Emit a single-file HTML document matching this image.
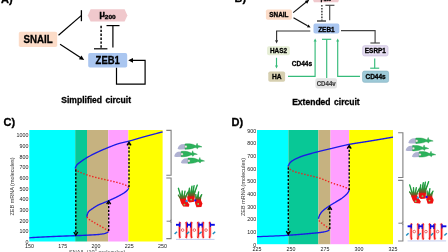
<!DOCTYPE html>
<html><head><meta charset="utf-8"><style>
html,body{margin:0;padding:0;background:#fff;width:448px;height:252px;overflow:hidden}
svg{display:block;font-family:"Liberation Sans", Arial, sans-serif}
text[font-weight=bold]{stroke:#000;stroke-width:0.3px}
</style></head><body>
<svg width="448" height="252" viewBox="0 0 448 252">
<text x="1.0" y="2.6" font-size="11" font-weight="bold">A)</text>
<rect x="18.8" y="31.8" width="38.4" height="15.2" rx="1.8" fill="#fcdcc8"/><text x="38.0" y="42.8" font-size="10.4" font-weight="bold" text-anchor="middle" fill="#000" textLength="29.2" lengthAdjust="spacingAndGlyphs">SNAIL</text>
<line x1="58.5" y1="35.2" x2="81.2" y2="15.6" stroke="#000" stroke-width="1.2"/>
<line x1="81.4" y1="10.2" x2="81.4" y2="21.2" stroke="#000" stroke-width="1.3"/>
<line x1="60.1" y1="44.3" x2="80.8" y2="57.7" stroke="#000" stroke-width="1.2"/>
<polygon points="84.20,60.00 78.92,59.30 81.44,55.45" fill="#000"/>
<polygon points="87.8,15.4 90.6,9.2 124.6,9.2 127.4,15.4 124.6,21.6 90.6,21.6" fill="#f0c8cc"/>
<text x="99.2" y="17.3" font-size="9.6" font-weight="bold">μ</text>
<text x="104.8" y="18.8" font-size="5.5" font-weight="bold" textLength="11" lengthAdjust="spacingAndGlyphs">200</text>
<line x1="101.1" y1="25.8" x2="101.1" y2="48.3" stroke="#000" stroke-width="1.45" stroke-dasharray="2.4 1.5"/>
<line x1="94" y1="48.8" x2="107.4" y2="48.8" stroke="#000" stroke-width="1.2"/>
<line x1="112.9" y1="25.6" x2="112.9" y2="47.5" stroke="#000" stroke-width="1.2"/>
<line x1="106.5" y1="25.6" x2="119.5" y2="25.6" stroke="#000" stroke-width="1.2"/>
<rect x="88.2" y="53.1" width="39.0" height="14.5" rx="1.8" fill="#aac6f0"/><text x="107.7" y="64.0" font-size="10.4" font-weight="bold" text-anchor="middle" fill="#000" textLength="24.2" lengthAdjust="spacingAndGlyphs">ZEB1</text>
<polyline points="116.5,67.8 116.5,84.1 145.1,84.1 145.1,60.3 132.0,60.3" fill="none" stroke="#000" stroke-width="1.2"/>
<polygon points="128.20,60.30 133.00,57.90 133.00,62.70" fill="#000"/>
<text x="61.3" y="103.2" font-size="8.7" font-weight="bold" textLength="69.7" lengthAdjust="spacingAndGlyphs" word-spacing="1">Simplified circuit</text>
<text x="234.5" y="2.1" font-size="11" font-weight="bold">B)</text>
<polygon points="311.6,-3 313.6,-8 338.4,-8 340.4,-3 338.0,2.2 314.0,2.2" fill="#f0c8cc"/>
<text x="320.5" y="0.2" font-size="6.5" font-weight="bold">μ</text><text x="324.2" y="1.0" font-size="4" font-weight="bold">200</text>
<rect x="265.9" y="9.5" width="26.0" height="10.2" rx="1.8" fill="#fcdcc8"/><text x="278.9" y="17.0" font-size="6.7" font-weight="bold" text-anchor="middle" fill="#000" textLength="19.2" lengthAdjust="spacingAndGlyphs">SNAIL</text>
<line x1="293.2" y1="12.6" x2="307.2" y2="1.3" stroke="#111" stroke-width="1.15"/>
<polygon points="309.30,-0.30 307.18,3.75 304.91,0.95" fill="#000"/>
<line x1="293.5" y1="17.8" x2="307.5" y2="25.8" stroke="#111" stroke-width="1.15"/>
<polygon points="310.60,27.60 306.90,27.21 308.40,24.61" fill="#000"/>
<line x1="321.9" y1="5" x2="321.9" y2="20.6" stroke="#111" stroke-width="1.2" stroke-dasharray="1.6 1.3"/>
<line x1="317" y1="21" x2="326" y2="21" stroke="#111" stroke-width="1.15"/>
<line x1="329.7" y1="5.3" x2="329.7" y2="20.2" stroke="#444" stroke-width="1.15"/>
<line x1="325.4" y1="5.3" x2="334.4" y2="5.3" stroke="#444" stroke-width="1.15"/>
<rect x="313.5" y="23.6" width="25.8" height="9.9" rx="1.8" fill="#aac6f0"/><text x="326.4" y="31.5" font-size="6.6" font-weight="bold" text-anchor="middle" fill="#000" textLength="16.5" lengthAdjust="spacingAndGlyphs">ZEB1</text>
<polyline points="310.3,31 276.6,31 276.6,40.5" fill="none" stroke="#333" stroke-width="1.15"/>
<polygon points="276.60,43.50 275.10,40.30 278.10,40.30" fill="#222"/>
<polyline points="341,30.6 375.1,30.6 375.1,43" fill="none" stroke="#444" stroke-width="1.15"/>
<line x1="370.4" y1="43" x2="379.9" y2="43" stroke="#444" stroke-width="1.15"/>
<rect x="267.1" y="46.3" width="22.7" height="9.0" rx="1.8" fill="#e6eed6"/><text x="278.45000000000005" y="53.3" font-size="6.6" font-weight="bold" text-anchor="middle" fill="#000" textLength="17.0" lengthAdjust="spacingAndGlyphs">HAS2</text>
<line x1="276.5" y1="57.8" x2="276.5" y2="66" stroke="#36bb7a" stroke-width="1.15"/>
<polygon points="276.50,68.40 275.00,65.40 278.00,65.40" fill="#36bb7a"/>
<text x="291.7" y="66" font-size="6.7" font-weight="bold" textLength="20.4" lengthAdjust="spacingAndGlyphs">CD44s</text>
<rect x="268.3" y="71.5" width="16.8" height="10.2" rx="1.8" fill="#d6cfb0"/><text x="276.7" y="79.2" font-size="7.0" font-weight="bold" text-anchor="middle" fill="#000" textLength="9.6" lengthAdjust="spacingAndGlyphs">HA</text>
<polyline points="288,76.3 315.1,76.3 315.1,41" fill="none" stroke="#36bb7a" stroke-width="1.15"/>
<polygon points="315.10,38.60 316.60,41.60 313.60,41.60" fill="#36bb7a"/>
<line x1="326.7" y1="78" x2="326.7" y2="39.3" stroke="#36bb7a" stroke-width="1.15"/>
<line x1="322" y1="39.3" x2="331.2" y2="39.3" stroke="#36bb7a" stroke-width="1.15"/>
<polyline points="360,76.3 337.7,76.3 337.7,41" fill="none" stroke="#36bb7a" stroke-width="1.15"/>
<polygon points="337.70,38.60 339.20,41.60 336.20,41.60" fill="#36bb7a"/>
<rect x="315.4" y="78.3" width="21.6" height="10.1" rx="1.8" fill="#e4e4e4"/><text x="326.2" y="85.8" font-size="6.5" font-weight="bold" text-anchor="middle" fill="#3c3c3c" style="stroke:#3c3c3c;stroke-width:0.15px" textLength="19.0" lengthAdjust="spacingAndGlyphs">CD44v</text>
<rect x="362.7" y="45.7" width="25.3" height="10.2" rx="1.8" fill="#e4dcf0" stroke="#c8bcdc" stroke-width="0.7"/><text x="375.34999999999997" y="53.3" font-size="6.6" font-weight="bold" text-anchor="middle" fill="#000" textLength="21.0" lengthAdjust="spacingAndGlyphs">ESRP1</text>
<line x1="374.7" y1="58.4" x2="374.7" y2="68.2" stroke="#36bb7a" stroke-width="1.15"/>
<line x1="370.2" y1="68.2" x2="379.2" y2="68.2" stroke="#36bb7a" stroke-width="1.15"/>
<rect x="362.6" y="71.1" width="26.0" height="11.2" rx="1.8" fill="#9ecad8" stroke="#86b4c4" stroke-width="0.7"/><text x="375.6" y="79.1" font-size="6.7" font-weight="bold" text-anchor="middle" fill="#000" textLength="20.3" lengthAdjust="spacingAndGlyphs">CD44s</text>
<text x="292.2" y="104.9" font-size="8.75" font-weight="bold" textLength="67.5" lengthAdjust="spacingAndGlyphs" word-spacing="1.2">Extended circuit</text>
<text x="3.5" y="126" font-size="11" font-weight="bold">C)</text>
<text x="231.5" y="126.3" font-size="11" font-weight="bold">D)</text>
<rect x="29.3" y="130" width="45.900000000000006" height="111.5" fill="#00ffff"/>
<rect x="75.2" y="130" width="11.799999999999997" height="111.5" fill="#08c896"/>
<rect x="87.0" y="130" width="21.200000000000003" height="111.5" fill="#c6b280"/>
<rect x="108.2" y="130" width="20.200000000000003" height="111.5" fill="#ffa0ff"/>
<rect x="128.4" y="130" width="34.19999999999999" height="111.5" fill="#ffff00"/>
<polyline points="29.30,237.80 31.34,237.67 33.48,237.54 35.71,237.41 38.03,237.29 40.43,237.16 42.91,237.03 45.46,236.90 48.08,236.77 50.77,236.64 53.51,236.51 56.32,236.39 59.35,236.26 62.66,236.13 66.16,236.00 69.73,235.87 73.28,235.74 76.72,235.61 79.93,235.49 82.84,235.36 85.40,235.23 87.91,235.10 90.35,234.97 92.68,234.84 94.84,234.71 96.78,234.59 98.43,234.46 99.76,234.33 100.79,234.20 101.74,234.07 102.60,233.94 103.37,233.81 104.05,233.69 104.63,233.56 105.12,233.43 105.50,233.30 105.82,233.17 106.14,233.04 106.44,232.91 106.73,232.79 107.00,232.66 107.25,232.53 107.48,232.40 107.68,232.27 107.86,232.14 108.01,232.01 108.14,231.89 108.23,231.76 108.28,231.63 108.30,231.50" fill="none" stroke="#1a1ae6" stroke-width="1.35"/>
<polyline points="108.30,231.50 108.29,231.37 108.25,231.25 108.19,231.12 108.11,230.99 108.02,230.87 107.90,230.74 107.77,230.61 107.62,230.49 107.46,230.36 107.29,230.23 107.10,230.11 106.91,229.98 106.71,229.85 106.51,229.73 106.30,229.60 106.08,229.47 105.87,229.35 105.65,229.22 105.44,229.09 105.23,228.97 105.02,228.84 104.82,228.71 104.63,228.59 104.44,228.46 104.25,228.33 104.06,228.21 103.86,228.08 103.66,227.95 103.46,227.83 103.25,227.70 103.04,227.57 102.83,227.44 102.61,227.32 102.39,227.19 102.17,227.06 101.95,226.94 101.72,226.81 101.50,226.68 101.27,226.56 101.04,226.43 100.82,226.30 100.59,226.18 100.36,226.05 100.13,225.92 99.90,225.80 99.68,225.67 99.45,225.54 99.23,225.42 99.00,225.29 98.78,225.16 98.56,225.04 98.35,224.91 98.13,224.78 97.91,224.66 97.69,224.53 97.47,224.40 97.24,224.28 97.02,224.15 96.80,224.02 96.58,223.90 96.36,223.77 96.13,223.64 95.91,223.52 95.69,223.39 95.47,223.26 95.25,223.14 95.03,223.01 94.81,222.88 94.59,222.76 94.37,222.63 94.15,222.50 93.94,222.38 93.73,222.25 93.51,222.12 93.30,222.00 93.09,221.87 92.89,221.74 92.68,221.62 92.48,221.49 92.28,221.36 92.07,221.24 91.86,221.11 91.65,220.98 91.44,220.86 91.23,220.73 91.02,220.60 90.81,220.48 90.60,220.35 90.39,220.22 90.19,220.09 89.99,219.97 89.79,219.84 89.60,219.71 89.41,219.59 89.23,219.46 89.05,219.33 88.89,219.21 88.73,219.08 88.57,218.95 88.43,218.83 88.30,218.70 88.18,218.57 88.05,218.45 87.93,218.32 87.80,218.19 87.68,218.07 87.55,217.94 87.44,217.81 87.33,217.69 87.22,217.56 87.13,217.43 87.05,217.31 86.99,217.18 86.94,217.05 86.91,216.93 86.90,216.80" fill="none" stroke="#f02020" stroke-width="1.4" stroke-dasharray="1.4 1.7"/>
<polyline points="86.90,216.80 86.90,216.67 86.91,216.55 86.91,216.42 86.92,216.30 86.93,216.17 86.95,216.04 86.96,215.92 86.98,215.79 87.00,215.67 87.03,215.54 87.05,215.42 87.08,215.29 87.11,215.16 87.14,215.04 87.17,214.91 87.20,214.79 87.24,214.66 87.27,214.53 87.31,214.41 87.35,214.28 87.39,214.16 87.43,214.03 87.48,213.91 87.52,213.78 87.56,213.65 87.61,213.53 87.65,213.40 87.70,213.28 87.74,213.15 87.79,213.02 87.84,212.90 87.90,212.77 87.96,212.65 88.03,212.52 88.10,212.39 88.18,212.27 88.26,212.14 88.35,212.02 88.44,211.89 88.54,211.77 88.64,211.64 88.74,211.51 88.85,211.39 88.96,211.26 89.08,211.14 89.19,211.01 89.31,210.88 89.45,210.76 89.59,210.63 89.74,210.51 89.90,210.38 90.07,210.26 90.25,210.13 90.43,210.00 90.61,209.88 90.79,209.75 90.98,209.63 91.16,209.50 91.35,209.37 91.53,209.25 91.71,209.12 91.89,209.00 92.07,208.87 92.25,208.74 92.43,208.62 92.61,208.49 92.79,208.37 92.97,208.24 93.15,208.12 93.33,207.99 93.52,207.86 93.70,207.74 93.89,207.61 94.08,207.49 94.27,207.36 94.46,207.23 94.65,207.11 94.85,206.98 95.05,206.86 95.25,206.73 95.45,206.61 95.66,206.48 95.87,206.35 96.08,206.23 96.30,206.10 96.52,205.98 96.74,205.85 96.97,205.72 97.20,205.60 97.44,205.47 97.69,205.35 97.94,205.22 98.19,205.09 98.46,204.97 98.73,204.84 99.00,204.72 99.29,204.59 99.57,204.47 99.86,204.34 100.15,204.21 100.45,204.09 100.75,203.96 101.06,203.84 101.37,203.71 101.68,203.58 101.99,203.46 102.30,203.33 102.62,203.21 102.93,203.08 103.25,202.96 103.56,202.83 103.88,202.70 104.20,202.58 104.51,202.45 104.83,202.33 105.14,202.20 105.45,202.07 105.76,201.95 106.07,201.82 106.38,201.70 106.68,201.57 106.98,201.44 107.27,201.32 107.56,201.19 107.85,201.07 108.13,200.94 108.41,200.82 108.69,200.69 108.98,200.56 109.26,200.44 109.54,200.31 109.82,200.19 110.10,200.06 110.38,199.93 110.66,199.81 110.94,199.68 111.22,199.56 111.50,199.43 111.77,199.31 112.05,199.18 112.32,199.05 112.60,198.93 112.87,198.80 113.14,198.68 113.42,198.55 113.69,198.42 113.95,198.30 114.22,198.17 114.49,198.05 114.75,197.92 115.01,197.79 115.27,197.67 115.53,197.54 115.79,197.42 116.04,197.29 116.30,197.17 116.55,197.04 116.80,196.91 117.04,196.79 117.29,196.66 117.53,196.54 117.77,196.41 118.01,196.28 118.25,196.16 118.50,196.03 118.74,195.91 118.98,195.78 119.22,195.66 119.46,195.53 119.71,195.40 119.95,195.28 120.19,195.15 120.42,195.03 120.66,194.90 120.90,194.77 121.13,194.65 121.36,194.52 121.59,194.40 121.82,194.27 122.04,194.14 122.27,194.02 122.49,193.89 122.70,193.77 122.92,193.64 123.13,193.52 123.33,193.39 123.54,193.26 123.74,193.14 123.93,193.01 124.12,192.89 124.31,192.76 124.49,192.63 124.66,192.51 124.83,192.38 125.00,192.26 125.16,192.13 125.32,192.01 125.47,191.88 125.63,191.75 125.78,191.63 125.94,191.50 126.09,191.38 126.24,191.25 126.39,191.12 126.53,191.00 126.67,190.87 126.81,190.75 126.94,190.62 127.07,190.49 127.20,190.37 127.31,190.24 127.43,190.12 127.53,189.99 127.64,189.87 127.73,189.74 127.82,189.61 127.90,189.49 127.97,189.36 128.03,189.24 128.10,189.11 128.16,188.98 128.22,188.86 128.28,188.73 128.34,188.61 128.39,188.48 128.44,188.36 128.49,188.23 128.53,188.10 128.56,187.98 128.58,187.85 128.59,187.73 128.60,187.60" fill="none" stroke="#1a1ae6" stroke-width="1.35"/>
<polyline points="128.60,187.60 128.59,187.47 128.54,187.35 128.48,187.22 128.39,187.09 128.29,186.97 128.18,186.84 128.05,186.72 127.92,186.59 127.78,186.46 127.64,186.34 127.50,186.21 127.33,186.08 127.14,185.96 126.93,185.83 126.71,185.71 126.46,185.58 126.21,185.45 125.94,185.33 125.66,185.20 125.37,185.07 125.07,184.95 124.77,184.82 124.47,184.69 124.14,184.57 123.80,184.44 123.45,184.32 123.08,184.19 122.69,184.06 122.29,183.94 121.88,183.81 121.46,183.68 121.02,183.56 120.58,183.43 120.13,183.31 119.67,183.18 119.21,183.05 118.74,182.93 118.26,182.80 117.78,182.67 117.30,182.55 116.82,182.42 116.34,182.29 115.86,182.17 115.38,182.04 114.89,181.92 114.39,181.79 113.87,181.66 113.35,181.54 112.82,181.41 112.29,181.28 111.74,181.16 111.19,181.03 110.64,180.91 110.09,180.78 109.53,180.65 108.97,180.53 108.41,180.40 107.86,180.27 107.30,180.15 106.75,180.02 106.21,179.89 105.67,179.77 105.12,179.64 104.57,179.52 104.02,179.39 103.46,179.26 102.90,179.14 102.34,179.01 101.78,178.88 101.22,178.76 100.67,178.63 100.12,178.51 99.57,178.38 99.03,178.25 98.50,178.13 97.98,178.00 97.47,177.87 96.97,177.75 96.48,177.62 96.00,177.49 95.53,177.37 95.06,177.24 94.59,177.12 94.13,176.99 93.67,176.86 93.22,176.74 92.77,176.61 92.32,176.48 91.88,176.36 91.45,176.23 91.01,176.11 90.59,175.98 90.16,175.85 89.75,175.73 89.34,175.60 88.93,175.47 88.53,175.35 88.14,175.22 87.75,175.09 87.36,174.97 86.99,174.84 86.62,174.72 86.25,174.59 85.90,174.46 85.54,174.34 85.18,174.21 84.82,174.08 84.45,173.96 84.09,173.83 83.73,173.71 83.37,173.58 83.02,173.45 82.67,173.33 82.32,173.20 81.98,173.07 81.64,172.95 81.31,172.82 80.99,172.69 80.67,172.57 80.37,172.44 80.07,172.32 79.78,172.19 79.51,172.06 79.25,171.94 79.00,171.81 78.76,171.68 78.54,171.56 78.34,171.43 78.15,171.31 77.97,171.18 77.80,171.05 77.63,170.93 77.47,170.80 77.30,170.67 77.13,170.55 76.97,170.42 76.81,170.29 76.66,170.17 76.51,170.04 76.36,169.92 76.22,169.79 76.10,169.66 75.97,169.54 75.86,169.41 75.76,169.28 75.67,169.16 75.59,169.03 75.52,168.91 75.47,168.78 75.43,168.65 75.41,168.53 75.40,168.40" fill="none" stroke="#f02020" stroke-width="1.4" stroke-dasharray="1.4 1.7"/>
<polyline points="75.40,168.40 75.40,168.27 75.41,168.15 75.42,168.02 75.44,167.90 75.47,167.77 75.49,167.65 75.53,167.52 75.56,167.40 75.60,167.27 75.65,167.15 75.70,167.02 75.75,166.89 75.80,166.77 75.86,166.64 75.92,166.52 75.99,166.39 76.05,166.27 76.12,166.14 76.19,166.02 76.26,165.89 76.33,165.77 76.41,165.64 76.48,165.52 76.56,165.39 76.64,165.26 76.71,165.14 76.79,165.01 76.87,164.89 76.97,164.76 77.07,164.64 77.18,164.51 77.31,164.39 77.44,164.26 77.58,164.14 77.72,164.01 77.87,163.88 78.03,163.76 78.19,163.63 78.36,163.51 78.53,163.38 78.70,163.26 78.87,163.13 79.05,163.01 79.22,162.88 79.40,162.76 79.58,162.63 79.75,162.50 79.92,162.38 80.10,162.25 80.26,162.13 80.43,162.00 80.59,161.88 80.76,161.75 80.92,161.63 81.09,161.50 81.26,161.38 81.43,161.25 81.60,161.13 81.77,161.00 81.94,160.87 82.11,160.75 82.29,160.62 82.46,160.50 82.64,160.37 82.81,160.25 82.99,160.12 83.17,160.00 83.35,159.87 83.53,159.75 83.71,159.62 83.90,159.49 84.08,159.37 84.27,159.24 84.46,159.12 84.65,158.99 84.84,158.87 85.03,158.74 85.23,158.62 85.42,158.49 85.62,158.37 85.82,158.24 86.02,158.11 86.22,157.99 86.43,157.86 86.64,157.74 86.85,157.61 87.06,157.49 87.27,157.36 87.49,157.24 87.70,157.11 87.92,156.99 88.14,156.86 88.37,156.74 88.59,156.61 88.82,156.48 89.05,156.36 89.28,156.23 89.52,156.11 89.75,155.98 89.99,155.86 90.23,155.73 90.47,155.61 90.71,155.48 90.95,155.36 91.20,155.23 91.44,155.10 91.69,154.98 91.94,154.85 92.19,154.73 92.44,154.60 92.70,154.48 92.95,154.35 93.20,154.23 93.46,154.10 93.72,153.98 93.98,153.85 94.24,153.72 94.50,153.60 94.76,153.47 95.02,153.35 95.29,153.22 95.55,153.10 95.81,152.97 96.08,152.85 96.35,152.72 96.61,152.60 96.88,152.47 97.15,152.35 97.42,152.22 97.69,152.09 97.96,151.97 98.23,151.84 98.50,151.72 98.77,151.59 99.04,151.47 99.31,151.34 99.58,151.22 99.86,151.09 100.13,150.97 100.41,150.84 100.69,150.71 100.97,150.59 101.25,150.46 101.53,150.34 101.81,150.21 102.10,150.09 102.39,149.96 102.68,149.84 102.97,149.71 103.26,149.59 103.55,149.46 103.85,149.33 104.14,149.21 104.44,149.08 104.74,148.96 105.04,148.83 105.34,148.71 105.64,148.58 105.95,148.46 106.25,148.33 106.56,148.21 106.87,148.08 107.17,147.95 107.48,147.83 107.79,147.70 108.10,147.58 108.42,147.45 108.73,147.33 109.04,147.20 109.34,147.08 109.65,146.95 109.95,146.83 110.26,146.70 110.57,146.58 110.87,146.45 111.18,146.32 111.49,146.20 111.79,146.07 112.11,145.95 112.42,145.82 112.73,145.70 113.05,145.57 113.38,145.45 113.70,145.32 114.03,145.20 114.36,145.07 114.70,144.94 115.05,144.82 115.40,144.69 115.75,144.57 116.11,144.44 116.48,144.32 116.86,144.19 117.24,144.07 117.63,143.94 118.03,143.82 118.43,143.69 118.85,143.56 119.30,143.44 119.76,143.31 120.25,143.19 120.75,143.06 121.26,142.94 121.78,142.81 122.31,142.69 122.85,142.56 123.40,142.44 123.94,142.31 124.49,142.19 125.04,142.06 125.59,141.93 126.12,141.81 126.66,141.68 127.18,141.56 127.69,141.43 128.19,141.31 128.67,141.18 129.14,141.06 129.61,140.93 130.07,140.81 130.53,140.68 130.98,140.55 131.44,140.43 131.88,140.30 132.33,140.18 132.77,140.05 133.20,139.93 133.64,139.80 134.07,139.68 134.50,139.55 134.93,139.43 135.36,139.30 135.78,139.17 136.21,139.05 136.63,138.92 137.06,138.80 137.48,138.67 137.90,138.55 138.32,138.42 138.75,138.30 139.17,138.17 139.60,138.05 140.02,137.92 140.45,137.80 140.88,137.67 141.31,137.54 141.74,137.42 142.18,137.29 142.61,137.17 143.05,137.04 143.50,136.92 143.95,136.79 144.40,136.67 144.85,136.54 145.31,136.42 145.77,136.29 146.23,136.16 146.69,136.04 147.15,135.91 147.62,135.79 148.08,135.66 148.55,135.54 149.02,135.41 149.49,135.29 149.96,135.16 150.43,135.04 150.90,134.91 151.38,134.78 151.85,134.66 152.33,134.53 152.81,134.41 153.29,134.28 153.77,134.16 154.25,134.03 154.73,133.91 155.21,133.78 155.70,133.66 156.18,133.53 156.67,133.41 157.16,133.28 157.65,133.15 158.14,133.03 158.63,132.90 159.12,132.78 159.61,132.65 160.11,132.53 160.61,132.40 161.10,132.28 161.60,132.15 162.10,132.03 162.60,131.90" fill="none" stroke="#1a1ae6" stroke-width="1.35"/>
<line x1="75.8" y1="169.5" x2="75.8" y2="234.4" stroke="#000" stroke-width="1.4" stroke-dasharray="2.2 1.6"/><polyline points="73.8,232.0 75.8,235.2 77.8,232.0" fill="none" stroke="#000" stroke-width="1.35"/>
<line x1="108.7" y1="231.0" x2="108.7" y2="201.79999999999998" stroke="#000" stroke-width="1.4" stroke-dasharray="2.2 1.6"/><polyline points="106.7,204.2 108.7,201.0 110.7,204.2" fill="none" stroke="#000" stroke-width="1.35"/>
<line x1="129.0" y1="187.0" x2="129.0" y2="143.0" stroke="#000" stroke-width="1.4" stroke-dasharray="2.2 1.6"/><polyline points="127.0,145.4 129.0,142.20000000000002 131.0,145.4" fill="none" stroke="#000" stroke-width="1.35"/>
<text x="28.400000000000002" y="243.9" font-size="6.0" text-anchor="end" fill="#1a1a1a" textLength="2.95" lengthAdjust="spacingAndGlyphs">0</text>
<text x="28.400000000000002" y="233.233" font-size="6.0" text-anchor="end" fill="#1a1a1a" textLength="8.85" lengthAdjust="spacingAndGlyphs">100</text>
<text x="28.400000000000002" y="222.566" font-size="6.0" text-anchor="end" fill="#1a1a1a" textLength="8.85" lengthAdjust="spacingAndGlyphs">200</text>
<text x="28.400000000000002" y="211.899" font-size="6.0" text-anchor="end" fill="#1a1a1a" textLength="8.85" lengthAdjust="spacingAndGlyphs">300</text>
<text x="28.400000000000002" y="201.232" font-size="6.0" text-anchor="end" fill="#1a1a1a" textLength="8.85" lengthAdjust="spacingAndGlyphs">400</text>
<text x="28.400000000000002" y="190.565" font-size="6.0" text-anchor="end" fill="#1a1a1a" textLength="8.85" lengthAdjust="spacingAndGlyphs">500</text>
<text x="28.400000000000002" y="179.89800000000002" font-size="6.0" text-anchor="end" fill="#1a1a1a" textLength="8.85" lengthAdjust="spacingAndGlyphs">600</text>
<text x="28.400000000000002" y="169.231" font-size="6.0" text-anchor="end" fill="#1a1a1a" textLength="8.85" lengthAdjust="spacingAndGlyphs">700</text>
<text x="28.400000000000002" y="158.56400000000002" font-size="6.0" text-anchor="end" fill="#1a1a1a" textLength="8.85" lengthAdjust="spacingAndGlyphs">800</text>
<text x="28.400000000000002" y="147.897" font-size="6.0" text-anchor="end" fill="#1a1a1a" textLength="8.85" lengthAdjust="spacingAndGlyphs">900</text>
<text x="28.400000000000002" y="137.23000000000002" font-size="6.0" text-anchor="end" fill="#1a1a1a" textLength="11.80" lengthAdjust="spacingAndGlyphs">1000</text>
<text x="29.5" y="247.9" font-size="6.0" text-anchor="middle" fill="#1a1a1a" textLength="8.85" lengthAdjust="spacingAndGlyphs">150</text>
<text x="62.75" y="247.9" font-size="6.0" text-anchor="middle" fill="#1a1a1a" textLength="8.85" lengthAdjust="spacingAndGlyphs">175</text>
<text x="96" y="247.9" font-size="6.0" text-anchor="middle" fill="#1a1a1a" textLength="8.85" lengthAdjust="spacingAndGlyphs">200</text>
<text x="129.25" y="247.9" font-size="6.0" text-anchor="middle" fill="#1a1a1a" textLength="8.85" lengthAdjust="spacingAndGlyphs">225</text>
<text x="162.5" y="247.9" font-size="6.0" text-anchor="middle" fill="#1a1a1a" textLength="8.85" lengthAdjust="spacingAndGlyphs">250</text>
<text transform="translate(14.1,186.5) rotate(-90)" font-size="5.5" text-anchor="middle" fill="#333">ZEB mRNA (molecules)</text>
<rect x="257.0" y="130" width="31.399999999999977" height="114.19999999999999" fill="#00ffff"/>
<rect x="288.4" y="130" width="30.0" height="114.19999999999999" fill="#08c896"/>
<rect x="318.4" y="130" width="12.100000000000023" height="114.19999999999999" fill="#c6b280"/>
<rect x="330.5" y="130" width="18.69999999999999" height="114.19999999999999" fill="#ffa0ff"/>
<rect x="349.2" y="130" width="43.80000000000001" height="114.19999999999999" fill="#ffff00"/>
<polyline points="257.00,236.70 260.36,236.57 263.65,236.44 266.86,236.32 269.97,236.19 272.98,236.06 275.87,235.93 278.63,235.80 281.25,235.68 283.72,235.55 286.02,235.42 288.14,235.29 290.12,235.16 292.00,235.04 293.80,234.91 295.51,234.78 297.14,234.65 298.72,234.52 300.23,234.39 301.70,234.27 303.13,234.14 304.54,234.01 305.92,233.88 307.28,233.75 308.65,233.63 310.02,233.50 311.40,233.37 312.79,233.24 314.17,233.11 315.52,232.99 316.81,232.86 318.03,232.73 319.16,232.60 320.17,232.47 321.07,232.35 321.91,232.22 322.72,232.09 323.48,231.96 324.19,231.83 324.85,231.71 325.44,231.58 325.97,231.45 326.43,231.32 326.84,231.19 327.22,231.06 327.57,230.94 327.89,230.81 328.16,230.68 328.39,230.55 328.57,230.42 328.71,230.30 328.84,230.17 328.97,230.04 329.08,229.91 329.17,229.78 329.24,229.66 329.28,229.53 329.30,229.40" fill="none" stroke="#1a1ae6" stroke-width="1.35"/>
<polyline points="329.30,229.40 329.28,229.27 329.24,229.15 329.17,229.02 329.07,228.89 328.96,228.76 328.84,228.64 328.71,228.51 328.58,228.38 328.45,228.25 328.32,228.13 328.20,228.00 328.07,227.87 327.94,227.74 327.79,227.62 327.65,227.49 327.49,227.36 327.33,227.23 327.17,227.11 327.00,226.98 326.82,226.85 326.65,226.72 326.47,226.60 326.29,226.47 326.10,226.34 325.92,226.22 325.73,226.09 325.54,225.96 325.36,225.83 325.17,225.71 324.98,225.58 324.80,225.45 324.61,225.32 324.43,225.20 324.25,225.07 324.08,224.94 323.91,224.81 323.74,224.69 323.57,224.56 323.41,224.43 323.25,224.30 323.09,224.18 322.92,224.05 322.75,223.92 322.57,223.80 322.40,223.67 322.22,223.54 322.05,223.41 321.87,223.29 321.70,223.16 321.53,223.03 321.35,222.90 321.19,222.78 321.02,222.65 320.86,222.52 320.70,222.39 320.55,222.27 320.40,222.14 320.26,222.01 320.13,221.88 320.00,221.76 319.87,221.63 319.76,221.50 319.66,221.38 319.56,221.25 319.47,221.12 319.40,220.99 319.32,220.87 319.25,220.74 319.18,220.61 319.11,220.48 319.04,220.36 318.97,220.23 318.91,220.10 318.84,219.97 318.79,219.85 318.73,219.72 318.68,219.59 318.64,219.46 318.60,219.34 318.56,219.21 318.54,219.08 318.52,218.95 318.50,218.83 318.50,218.70" fill="none" stroke="#f02020" stroke-width="1.4" stroke-dasharray="1.4 1.7"/>
<polyline points="318.50,218.70 318.50,218.57 318.51,218.45 318.52,218.32 318.54,218.20 318.56,218.07 318.58,217.94 318.61,217.82 318.64,217.69 318.67,217.57 318.70,217.44 318.74,217.32 318.78,217.19 318.83,217.06 318.87,216.94 318.92,216.81 318.97,216.69 319.01,216.56 319.06,216.43 319.11,216.31 319.17,216.18 319.22,216.06 319.27,215.93 319.32,215.80 319.37,215.68 319.42,215.55 319.47,215.43 319.52,215.30 319.58,215.18 319.64,215.05 319.70,214.92 319.77,214.80 319.83,214.67 319.90,214.55 319.97,214.42 320.04,214.29 320.12,214.17 320.20,214.04 320.28,213.92 320.36,213.79 320.44,213.66 320.52,213.54 320.61,213.41 320.70,213.29 320.79,213.16 320.88,213.04 320.97,212.91 321.06,212.78 321.16,212.66 321.26,212.53 321.36,212.41 321.46,212.28 321.56,212.15 321.66,212.03 321.76,211.90 321.87,211.78 321.99,211.65 322.10,211.52 322.22,211.40 322.34,211.27 322.47,211.15 322.60,211.02 322.73,210.90 322.86,210.77 323.00,210.64 323.14,210.52 323.28,210.39 323.43,210.27 323.57,210.14 323.72,210.01 323.87,209.89 324.03,209.76 324.18,209.64 324.34,209.51 324.50,209.39 324.66,209.26 324.82,209.13 324.99,209.01 325.15,208.88 325.32,208.76 325.49,208.63 325.66,208.50 325.83,208.38 326.00,208.25 326.18,208.13 326.35,208.00 326.53,207.87 326.70,207.75 326.88,207.62 327.05,207.50 327.23,207.37 327.41,207.25 327.59,207.12 327.77,206.99 327.95,206.87 328.12,206.74 328.30,206.62 328.48,206.49 328.66,206.36 328.84,206.24 329.02,206.11 329.20,205.99 329.39,205.86 329.58,205.73 329.77,205.61 329.96,205.48 330.16,205.36 330.36,205.23 330.56,205.11 330.76,204.98 330.97,204.85 331.17,204.73 331.38,204.60 331.59,204.48 331.80,204.35 332.01,204.22 332.22,204.10 332.43,203.97 332.65,203.85 332.86,203.72 333.08,203.59 333.29,203.47 333.51,203.34 333.73,203.22 333.94,203.09 334.16,202.97 334.38,202.84 334.59,202.71 334.81,202.59 335.02,202.46 335.24,202.34 335.45,202.21 335.66,202.08 335.88,201.96 336.09,201.83 336.30,201.71 336.50,201.58 336.71,201.45 336.92,201.33 337.12,201.20 337.33,201.08 337.54,200.95 337.75,200.83 337.97,200.70 338.18,200.57 338.39,200.45 338.61,200.32 338.82,200.20 339.03,200.07 339.24,199.94 339.45,199.82 339.66,199.69 339.87,199.57 340.07,199.44 340.27,199.31 340.47,199.19 340.67,199.06 340.86,198.94 341.05,198.81 341.24,198.69 341.42,198.56 341.59,198.43 341.77,198.31 341.94,198.18 342.11,198.06 342.28,197.93 342.45,197.80 342.61,197.68 342.78,197.55 342.94,197.43 343.10,197.30 343.26,197.18 343.42,197.05 343.57,196.92 343.72,196.80 343.88,196.67 344.03,196.55 344.17,196.42 344.32,196.29 344.46,196.17 344.61,196.04 344.75,195.92 344.89,195.79 345.02,195.66 345.16,195.54 345.29,195.41 345.43,195.29 345.56,195.16 345.70,195.04 345.83,194.91 345.97,194.78 346.10,194.66 346.23,194.53 346.37,194.41 346.49,194.28 346.62,194.15 346.75,194.03 346.87,193.90 346.99,193.78 347.11,193.65 347.23,193.52 347.34,193.40 347.44,193.27 347.55,193.15 347.64,193.02 347.74,192.90 347.83,192.77 347.91,192.64 347.99,192.52 348.06,192.39 348.14,192.27 348.22,192.14 348.30,192.01 348.37,191.89 348.45,191.76 348.52,191.64 348.59,191.51 348.66,191.38 348.73,191.26 348.79,191.13 348.85,191.01 348.91,190.88 348.95,190.76 349.00,190.63 349.03,190.50 349.06,190.38 349.08,190.25 349.10,190.13 349.10,190.00" fill="none" stroke="#1a1ae6" stroke-width="1.35"/>
<polyline points="349.10,190.00 349.08,189.87 349.04,189.75 348.97,189.62 348.87,189.50 348.75,189.37 348.61,189.24 348.45,189.12 348.27,188.99 348.08,188.87 347.87,188.74 347.66,188.61 347.43,188.49 347.19,188.36 346.95,188.24 346.70,188.11 346.45,187.99 346.20,187.86 345.95,187.73 345.71,187.61 345.46,187.48 345.22,187.36 344.95,187.23 344.67,187.10 344.37,186.98 344.06,186.85 343.73,186.73 343.39,186.60 343.04,186.47 342.68,186.35 342.31,186.22 341.93,186.10 341.54,185.97 341.15,185.84 340.74,185.72 340.33,185.59 339.92,185.47 339.50,185.34 339.08,185.21 338.66,185.09 338.23,184.96 337.81,184.84 337.38,184.71 336.95,184.59 336.53,184.46 336.11,184.33 335.70,184.21 335.28,184.08 334.88,183.96 334.48,183.83 334.08,183.70 333.70,183.58 333.32,183.45 332.96,183.33 332.60,183.20 332.25,183.07 331.91,182.95 331.57,182.82 331.24,182.70 330.92,182.57 330.59,182.44 330.28,182.32 329.96,182.19 329.65,182.07 329.34,181.94 329.04,181.81 328.73,181.69 328.43,181.56 328.13,181.44 327.83,181.31 327.54,181.19 327.24,181.06 326.94,180.93 326.65,180.81 326.35,180.68 326.05,180.56 325.75,180.43 325.45,180.30 325.14,180.18 324.84,180.05 324.53,179.93 324.22,179.80 323.90,179.67 323.58,179.55 323.26,179.42 322.93,179.30 322.60,179.17 322.26,179.04 321.92,178.92 321.57,178.79 321.22,178.67 320.86,178.54 320.49,178.41 320.11,178.29 319.73,178.16 319.34,178.04 318.94,177.91 318.52,177.79 318.09,177.66 317.64,177.53 317.18,177.41 316.70,177.28 316.21,177.16 315.71,177.03 315.20,176.90 314.68,176.78 314.15,176.65 313.61,176.53 313.08,176.40 312.53,176.27 311.99,176.15 311.45,176.02 310.90,175.90 310.36,175.77 309.82,175.64 309.29,175.52 308.77,175.39 308.25,175.27 307.74,175.14 307.24,175.01 306.76,174.89 306.27,174.76 305.78,174.64 305.27,174.51 304.76,174.39 304.25,174.26 303.73,174.13 303.20,174.01 302.68,173.88 302.16,173.76 301.63,173.63 301.11,173.50 300.59,173.38 300.07,173.25 299.56,173.13 299.06,173.00 298.56,172.87 298.08,172.75 297.60,172.62 297.14,172.50 296.68,172.37 296.24,172.24 295.82,172.12 295.41,171.99 295.02,171.87 294.65,171.74 294.30,171.61 293.97,171.49 293.67,171.36 293.38,171.24 293.12,171.11 292.88,170.99 292.64,170.86 292.41,170.73 292.18,170.61 291.95,170.48 291.73,170.36 291.52,170.23 291.31,170.10 291.11,169.98 290.91,169.85 290.73,169.73 290.54,169.60 290.37,169.47 290.20,169.35 290.04,169.22 289.88,169.10 289.74,168.97 289.60,168.84 289.47,168.72 289.35,168.59 289.24,168.47 289.13,168.34 289.04,168.21 288.95,168.09 288.88,167.96 288.81,167.84 288.73,167.71 288.66,167.59 288.60,167.46 288.53,167.33 288.47,167.21 288.41,167.08 288.36,166.96 288.31,166.83 288.28,166.70 288.24,166.58 288.22,166.45 288.21,166.33 288.20,166.20" fill="none" stroke="#f02020" stroke-width="1.4" stroke-dasharray="1.4 1.7"/>
<polyline points="288.20,166.20 288.21,166.07 288.23,165.95 288.26,165.82 288.29,165.70 288.34,165.57 288.40,165.44 288.46,165.32 288.52,165.19 288.59,165.07 288.66,164.94 288.73,164.81 288.80,164.69 288.87,164.56 288.93,164.44 289.00,164.31 289.07,164.18 289.14,164.06 289.21,163.93 289.28,163.81 289.36,163.68 289.44,163.55 289.53,163.43 289.61,163.30 289.70,163.18 289.80,163.05 289.89,162.92 289.99,162.80 290.10,162.67 290.21,162.55 290.32,162.42 290.44,162.29 290.57,162.17 290.71,162.04 290.85,161.92 291.00,161.79 291.15,161.66 291.32,161.54 291.48,161.41 291.65,161.29 291.83,161.16 292.01,161.04 292.20,160.91 292.39,160.78 292.59,160.66 292.79,160.53 292.99,160.41 293.19,160.28 293.40,160.15 293.61,160.03 293.83,159.90 294.04,159.78 294.26,159.65 294.48,159.52 294.70,159.40 294.93,159.27 295.16,159.15 295.40,159.02 295.64,158.89 295.89,158.77 296.14,158.64 296.40,158.52 296.67,158.39 296.94,158.26 297.21,158.14 297.49,158.01 297.78,157.89 298.07,157.76 298.36,157.63 298.66,157.51 298.97,157.38 299.28,157.26 299.59,157.13 299.91,157.00 300.23,156.88 300.56,156.75 300.89,156.63 301.22,156.50 301.56,156.37 301.91,156.25 302.26,156.12 302.62,156.00 302.99,155.87 303.38,155.74 303.77,155.62 304.17,155.49 304.58,155.37 305.00,155.24 305.42,155.11 305.85,154.99 306.29,154.86 306.73,154.74 307.17,154.61 307.62,154.48 308.07,154.36 308.52,154.23 308.98,154.11 309.43,153.98 309.89,153.85 310.34,153.73 310.79,153.60 311.24,153.48 311.70,153.35 312.16,153.22 312.63,153.10 313.09,152.97 313.57,152.85 314.04,152.72 314.52,152.59 315.00,152.47 315.49,152.34 315.98,152.22 316.47,152.09 316.96,151.96 317.46,151.84 317.95,151.71 318.45,151.59 318.95,151.46 319.46,151.34 319.97,151.21 320.48,151.08 321.00,150.96 321.52,150.83 322.04,150.71 322.56,150.58 323.09,150.45 323.62,150.33 324.15,150.20 324.68,150.08 325.21,149.95 325.74,149.82 326.28,149.70 326.81,149.57 327.35,149.45 327.88,149.32 328.42,149.19 328.95,149.07 329.49,148.94 330.02,148.82 330.55,148.69 331.08,148.56 331.61,148.44 332.13,148.31 332.64,148.19 333.16,148.06 333.67,147.93 334.18,147.81 334.68,147.68 335.19,147.56 335.70,147.43 336.21,147.30 336.71,147.18 337.22,147.05 337.73,146.93 338.25,146.80 338.76,146.67 339.28,146.55 339.81,146.42 340.33,146.30 340.86,146.17 341.40,146.04 341.95,145.92 342.49,145.79 343.05,145.67 343.61,145.54 344.19,145.41 344.76,145.29 345.35,145.16 345.95,145.04 346.56,144.91 347.18,144.78 347.80,144.66 348.45,144.53 349.11,144.41 349.79,144.28 350.48,144.15 351.20,144.03 351.92,143.90 352.67,143.78 353.42,143.65 354.19,143.52 354.97,143.40 355.75,143.27 356.55,143.15 357.35,143.02 358.16,142.89 358.97,142.77 359.79,142.64 360.61,142.52 361.43,142.39 362.24,142.26 363.06,142.14 363.88,142.01 364.69,141.89 365.50,141.76 366.30,141.64 367.09,141.51 367.87,141.38 368.65,141.26 369.41,141.13 370.17,141.01 370.92,140.88 371.68,140.75 372.43,140.63 373.18,140.50 373.93,140.38 374.68,140.25 375.42,140.12 376.17,140.00 376.91,139.87 377.66,139.75 378.40,139.62 379.14,139.49 379.88,139.37 380.62,139.24 381.36,139.12 382.10,138.99 382.83,138.86 383.57,138.74 384.30,138.61 385.03,138.49 385.76,138.36 386.49,138.23 387.22,138.11 387.95,137.98 388.67,137.86 389.40,137.73 390.12,137.60 390.84,137.48 391.56,137.35 392.28,137.23 393.00,137.10" fill="none" stroke="#1a1ae6" stroke-width="1.35"/>
<line x1="288.3" y1="167.5" x2="288.3" y2="233.60000000000002" stroke="#000" stroke-width="1.4" stroke-dasharray="2.2 1.6"/><polyline points="286.3,231.20000000000002 288.3,234.4 290.3,231.20000000000002" fill="none" stroke="#000" stroke-width="1.35"/>
<line x1="329.8" y1="229.0" x2="329.8" y2="207.5" stroke="#000" stroke-width="1.4" stroke-dasharray="2.2 1.6"/><polyline points="327.8,209.9 329.8,206.70000000000002 331.8,209.9" fill="none" stroke="#000" stroke-width="1.35"/>
<line x1="349.2" y1="190.0" x2="349.2" y2="146.2" stroke="#000" stroke-width="1.4" stroke-dasharray="2.2 1.6"/><polyline points="347.2,148.6 349.2,145.4 351.2,148.6" fill="none" stroke="#000" stroke-width="1.35"/>
<text x="256.1" y="246.5" font-size="6.0" text-anchor="end" fill="#1a1a1a" textLength="2.95" lengthAdjust="spacingAndGlyphs">0</text>
<text x="256.1" y="233.84" font-size="6.0" text-anchor="end" fill="#1a1a1a" textLength="8.85" lengthAdjust="spacingAndGlyphs">100</text>
<text x="256.1" y="221.18" font-size="6.0" text-anchor="end" fill="#1a1a1a" textLength="8.85" lengthAdjust="spacingAndGlyphs">200</text>
<text x="256.1" y="208.52" font-size="6.0" text-anchor="end" fill="#1a1a1a" textLength="8.85" lengthAdjust="spacingAndGlyphs">300</text>
<text x="256.1" y="195.86" font-size="6.0" text-anchor="end" fill="#1a1a1a" textLength="8.85" lengthAdjust="spacingAndGlyphs">400</text>
<text x="256.1" y="183.2" font-size="6.0" text-anchor="end" fill="#1a1a1a" textLength="8.85" lengthAdjust="spacingAndGlyphs">500</text>
<text x="256.1" y="170.54000000000002" font-size="6.0" text-anchor="end" fill="#1a1a1a" textLength="8.85" lengthAdjust="spacingAndGlyphs">600</text>
<text x="256.1" y="157.88" font-size="6.0" text-anchor="end" fill="#1a1a1a" textLength="8.85" lengthAdjust="spacingAndGlyphs">700</text>
<text x="256.1" y="145.22000000000003" font-size="6.0" text-anchor="end" fill="#1a1a1a" textLength="8.85" lengthAdjust="spacingAndGlyphs">800</text>
<text x="256.1" y="132.56" font-size="6.0" text-anchor="end" fill="#1a1a1a" textLength="8.85" lengthAdjust="spacingAndGlyphs">900</text>
<text x="257" y="250.5" font-size="6.0" text-anchor="middle" fill="#1a1a1a" textLength="8.85" lengthAdjust="spacingAndGlyphs">225</text>
<text x="291" y="250.5" font-size="6.0" text-anchor="middle" fill="#1a1a1a" textLength="8.85" lengthAdjust="spacingAndGlyphs">250</text>
<text x="325" y="250.5" font-size="6.0" text-anchor="middle" fill="#1a1a1a" textLength="8.85" lengthAdjust="spacingAndGlyphs">275</text>
<text x="359" y="250.5" font-size="6.0" text-anchor="middle" fill="#1a1a1a" textLength="8.85" lengthAdjust="spacingAndGlyphs">300</text>
<text x="393" y="250.5" font-size="6.0" text-anchor="middle" fill="#1a1a1a" textLength="8.85" lengthAdjust="spacingAndGlyphs">325</text>
<text transform="translate(244.6,187) rotate(-90)" font-size="5.5" text-anchor="middle" fill="#333">ZEB mRNA (molecules)</text>
<text x="69.0" y="254.4" font-size="5.6" fill="#444">SNAIL (10<tspan dy="-3.2" font-size="4">3</tspan><tspan dy="3.2"> molecules)</tspan></text>
<path d="M166.29999999999998,130.4 H171.1 V175.3 H166.29999999999998 M166.29999999999998,178.0 H171.1 V238.6 H166.29999999999998" fill="none" stroke="#808080" stroke-width="1.1"/><path d="M171.1,219.6 L170.1,221.2 H166.6 M170.1,221.2 L171.1,222.79999999999998" fill="none" stroke="#808080" stroke-width="1.0"/>
<g transform="translate(177.6,146.5) scale(1.0,0.9)"><path d="M0,2.4 C0.5,0.2 1.8,-1.7 3.8,-2.5 L8.6,-2.9 L8.6,3.0 L2.8,3.2 C1.3,3.2 0.2,3.0 0,2.4 Z" fill="#b0b2d2"/><path d="M7.4,-2.9 C11,-3.4 14.6,-2.9 16.8,-1.6 L18.4,-0.9 L19.5,-3.6 L20.3,-1.0 L21.8,-0.8 L24.4,0.4 L20.8,0.9 L19.8,2.6 L18.4,1.2 L17.0,1.3 C14,2.8 10.5,3.1 7.4,3.0 Z" fill="#2cb25c" stroke="#14943f" stroke-width="0.4"/><circle cx="8.2" cy="0.2" r="1.25" fill="#f2ecea" stroke="#8a9a8a" stroke-width="0.3"/></g><g transform="translate(174.2,154.0) scale(0.95,0.9)"><path d="M0,2.4 C0.5,0.2 1.8,-1.7 3.8,-2.5 L8.6,-2.9 L8.6,3.0 L2.8,3.2 C1.3,3.2 0.2,3.0 0,2.4 Z" fill="#b0b2d2"/><path d="M7.4,-2.9 C11,-3.4 14.6,-2.9 16.8,-1.6 L18.4,-0.9 L19.5,-3.6 L20.3,-1.0 L21.8,-0.8 L24.4,0.4 L20.8,0.9 L19.8,2.6 L18.4,1.2 L17.0,1.3 C14,2.8 10.5,3.1 7.4,3.0 Z" fill="#2cb25c" stroke="#14943f" stroke-width="0.4"/><circle cx="8.2" cy="0.2" r="1.25" fill="#f2ecea" stroke="#8a9a8a" stroke-width="0.3"/></g><g transform="translate(180.9,160.7) scale(0.97,0.9)"><path d="M0,2.4 C0.5,0.2 1.8,-1.7 3.8,-2.5 L8.6,-2.9 L8.6,3.0 L2.8,3.2 C1.3,3.2 0.2,3.0 0,2.4 Z" fill="#b0b2d2"/><path d="M7.4,-2.9 C11,-3.4 14.6,-2.9 16.8,-1.6 L18.4,-0.9 L19.5,-3.6 L20.3,-1.0 L21.8,-0.8 L24.4,0.4 L20.8,0.9 L19.8,2.6 L18.4,1.2 L17.0,1.3 C14,2.8 10.5,3.1 7.4,3.0 Z" fill="#2cb25c" stroke="#14943f" stroke-width="0.4"/><circle cx="8.2" cy="0.2" r="1.25" fill="#f2ecea" stroke="#8a9a8a" stroke-width="0.3"/></g>
<defs><linearGradient id="rg1" gradientUnits="userSpaceOnUse" x1="0" y1="188" x2="0" y2="200.5"><stop offset="0" stop-color="#17a444"/><stop offset="0.55" stop-color="#2a9238"/><stop offset="0.85" stop-color="#7a5020"/><stop offset="1" stop-color="#c02010"/></linearGradient><linearGradient id="rg2" gradientUnits="userSpaceOnUse" x1="0" y1="185.5" x2="0" y2="197.5"><stop offset="0" stop-color="#17a444"/><stop offset="0.55" stop-color="#2a9238"/><stop offset="0.85" stop-color="#7a5020"/><stop offset="1" stop-color="#c02010"/></linearGradient><linearGradient id="rg3" gradientUnits="userSpaceOnUse" x1="0" y1="192" x2="0" y2="200.5"><stop offset="0" stop-color="#17a444"/><stop offset="0.55" stop-color="#2a9238"/><stop offset="0.85" stop-color="#7a5020"/><stop offset="1" stop-color="#c02010"/></linearGradient></defs><polygon fill="url(#rg1)" points="181.0,200.2 178.4,188.3 180.9,195.8 182.2,191.0 183.3,196.4 185.0,191.1 184.8,196.6 187.9,192.1 185.7,199.6"/><polygon fill="url(#rg1)" points="180.6,199.8 178.3,195.2 181.4,198.2"/><polygon fill="url(#rg2)" points="187.5,197.6 187.8,192.2 189.4,188.2 190.2,193.0 192.0,186.1 192.6,192.4 194.1,185.6 194.4,192.0 197.3,185.1 194.9,194.0 194.7,197.6"/><polygon fill="url(#rg3)" points="195.3,200.3 195.6,194.6 196.6,197.2 198.6,192.0 199.0,197.4 201.7,194.6 200.9,200.4"/><g stroke="url(#rg1)" stroke-width="1.35" stroke-linecap="round"><line x1="181.6" y1="199" x2="178.4" y2="188.3"/><line x1="181.0" y1="199.5" x2="178.4" y2="195.2"/><line x1="182.6" y1="199" x2="182.2" y2="191.0"/><line x1="183.6" y1="199" x2="185.0" y2="191.1"/><line x1="184.6" y1="199" x2="187.9" y2="192.1"/></g><g stroke="url(#rg2)" stroke-width="1.35" stroke-linecap="round"><line x1="188.6" y1="196" x2="189.4" y2="188.2"/><line x1="190.2" y1="196" x2="192.0" y2="186.1"/><line x1="191.8" y1="196" x2="194.1" y2="185.6"/><line x1="193.4" y1="196" x2="197.3" y2="185.1"/></g><g stroke="url(#rg3)" stroke-width="1.35" stroke-linecap="round"><line x1="196.2" y1="199.5" x2="195.8" y2="194.4"/><line x1="197.4" y1="199.5" x2="198.6" y2="192.0"/><line x1="199.0" y1="199.5" x2="201.7" y2="194.6"/></g><g fill="#ee1010"><polygon points="179.8,199.2 185.6,198.6 189.4,204.8 188.8,206.8 183.2,206.5 181.2,203.3"/><polygon points="187.2,196.6 194.6,196.4 194.4,201.8 189.5,202.5 187.6,201.0"/><polygon points="195.2,199.8 200.8,199.8 202.4,203.4 201.4,207.0 196.4,207.2 195.0,203.0"/></g><circle cx="184.4" cy="204.6" r="0.95" fill="#7ccc68"/><circle cx="191.2" cy="199.6" r="0.95" fill="#7ccc68"/><circle cx="198.2" cy="204.0" r="0.95" fill="#7ccc68"/><circle cx="186.5" cy="201.1" r="1.15" fill="#1ea8f0"/><circle cx="195.3" cy="200.4" r="1.15" fill="#1010f0"/>
<line x1="176" y1="239.4" x2="214.5" y2="239.4" stroke="#b4c0ea" stroke-width="0.8"/><path d="M180.3,222.0 Q179.5,223 179.5,225 L179.5,235 Q179.5,237 180.3,238.0 M185.79999999999998,222.0 Q186.6,223 186.6,225 L186.6,235 Q186.6,237 185.79999999999998,238.0" fill="none" stroke="#fbcaca" stroke-width="3.2" transform="translate(0,0)"/><path d="M192.0,222.0 Q191.2,223 191.2,225 L191.2,235 Q191.2,237 192.0,238.0 M197.5,222.0 Q198.3,223 198.3,225 L198.3,235 Q198.3,237 197.5,238.0" fill="none" stroke="#fbcaca" stroke-width="3.2" transform="translate(0,0)"/><path d="M203.70000000000002,222.0 Q202.9,223 202.9,225 L202.9,235 Q202.9,237 203.70000000000002,238.0 M209.2,222.0 Q210.0,223 210.0,225 L210.0,235 Q210.0,237 209.2,238.0" fill="none" stroke="#fbcaca" stroke-width="3.2" transform="translate(0,0)"/><path d="M180.3,222.0 Q179.5,223 179.5,225 L179.5,235 Q179.5,237 180.3,238.0 M185.79999999999998,222.0 Q186.6,223 186.6,225 L186.6,235 Q186.6,237 185.79999999999998,238.0" fill="none" stroke="#f41a1a" stroke-width="1.45"/><circle cx="182.65" cy="230.1" r="1.3" fill="#fff" stroke="#e23a3a" stroke-width="0.75"/><path d="M192.0,222.0 Q191.2,223 191.2,225 L191.2,235 Q191.2,237 192.0,238.0 M197.5,222.0 Q198.3,223 198.3,225 L198.3,235 Q198.3,237 197.5,238.0" fill="none" stroke="#f41a1a" stroke-width="1.45"/><circle cx="194.35" cy="230.1" r="1.3" fill="#fff" stroke="#e23a3a" stroke-width="0.75"/><path d="M203.70000000000002,222.0 Q202.9,223 202.9,225 L202.9,235 Q202.9,237 203.70000000000002,238.0 M209.2,222.0 Q210.0,223 210.0,225 L210.0,235 Q210.0,237 209.2,238.0" fill="none" stroke="#f41a1a" stroke-width="1.45"/><circle cx="206.04999999999998" cy="230.1" r="1.3" fill="#fff" stroke="#e23a3a" stroke-width="0.75"/><line x1="176" y1="224.8" x2="180.2" y2="224.8" stroke="#0a0ae8" stroke-width="1.9"/><line x1="179.7" y1="222.6" x2="179.7" y2="227.0" stroke="#0a0ae8" stroke-width="1.1"/><line x1="187.0" y1="224.8" x2="191.0" y2="224.8" stroke="#0a0ae8" stroke-width="1.9"/><line x1="187.4" y1="222.4" x2="187.4" y2="227.4" stroke="#0a0ae8" stroke-width="1.1"/><line x1="190.6" y1="222.4" x2="190.6" y2="227.4" stroke="#0a0ae8" stroke-width="1.1"/><line x1="198.6" y1="224.8" x2="202.6" y2="224.8" stroke="#0a0ae8" stroke-width="1.9"/><line x1="199.0" y1="222.4" x2="199.0" y2="227.4" stroke="#0a0ae8" stroke-width="1.1"/><line x1="202.2" y1="222.4" x2="202.2" y2="227.4" stroke="#0a0ae8" stroke-width="1.1"/><line x1="210.2" y1="224.8" x2="214.8" y2="224.8" stroke="#0a0ae8" stroke-width="1.9"/><line x1="210.4" y1="222.6" x2="210.4" y2="227.0" stroke="#0a0ae8" stroke-width="1.1"/><line x1="174.60000000000002" y1="234.0" x2="177.0" y2="231.8" stroke="#1c8cc0" stroke-width="1.5"/><line x1="186.8" y1="234.0" x2="189.2" y2="231.8" stroke="#1c8cc0" stroke-width="1.5"/><line x1="199.20000000000002" y1="234.0" x2="201.6" y2="231.8" stroke="#1c8cc0" stroke-width="1.5"/><line x1="212.8" y1="234.0" x2="215.2" y2="231.8" stroke="#1c8cc0" stroke-width="1.5"/>
<path d="M398.09999999999997,132.8 H402.9 V177.5 H398.09999999999997 M398.09999999999997,180.4 H402.9 V241.0 H398.09999999999997" fill="none" stroke="#808080" stroke-width="1.1"/><path d="M402.9,221.6 L401.9,223.2 H398.4 M401.9,223.2 L402.9,224.79999999999998" fill="none" stroke="#808080" stroke-width="1.0"/>
<g transform="translate(408.3,140.7) scale(1.02,0.9)"><path d="M0,2.4 C0.5,0.2 1.8,-1.7 3.8,-2.5 L8.6,-2.9 L8.6,3.0 L2.8,3.2 C1.3,3.2 0.2,3.0 0,2.4 Z" fill="#b0b2d2"/><path d="M7.4,-2.9 C11,-3.4 14.6,-2.9 16.8,-1.6 L18.4,-0.9 L19.5,-3.6 L20.3,-1.0 L21.8,-0.8 L24.4,0.4 L20.8,0.9 L19.8,2.6 L18.4,1.2 L17.0,1.3 C14,2.8 10.5,3.1 7.4,3.0 Z" fill="#2cb25c" stroke="#14943f" stroke-width="0.4"/><circle cx="8.2" cy="0.2" r="1.25" fill="#f2ecea" stroke="#8a9a8a" stroke-width="0.3"/></g><g transform="translate(405.6,148.2) scale(0.95,0.9)"><path d="M0,2.4 C0.5,0.2 1.8,-1.7 3.8,-2.5 L8.6,-2.9 L8.6,3.0 L2.8,3.2 C1.3,3.2 0.2,3.0 0,2.4 Z" fill="#b0b2d2"/><path d="M7.4,-2.9 C11,-3.4 14.6,-2.9 16.8,-1.6 L18.4,-0.9 L19.5,-3.6 L20.3,-1.0 L21.8,-0.8 L24.4,0.4 L20.8,0.9 L19.8,2.6 L18.4,1.2 L17.0,1.3 C14,2.8 10.5,3.1 7.4,3.0 Z" fill="#2cb25c" stroke="#14943f" stroke-width="0.4"/><circle cx="8.2" cy="0.2" r="1.25" fill="#f2ecea" stroke="#8a9a8a" stroke-width="0.3"/></g><g transform="translate(411.9,154.4) scale(0.98,0.9)"><path d="M0,2.4 C0.5,0.2 1.8,-1.7 3.8,-2.5 L8.6,-2.9 L8.6,3.0 L2.8,3.2 C1.3,3.2 0.2,3.0 0,2.4 Z" fill="#b0b2d2"/><path d="M7.4,-2.9 C11,-3.4 14.6,-2.9 16.8,-1.6 L18.4,-0.9 L19.5,-3.6 L20.3,-1.0 L21.8,-0.8 L24.4,0.4 L20.8,0.9 L19.8,2.6 L18.4,1.2 L17.0,1.3 C14,2.8 10.5,3.1 7.4,3.0 Z" fill="#2cb25c" stroke="#14943f" stroke-width="0.4"/><circle cx="8.2" cy="0.2" r="1.25" fill="#f2ecea" stroke="#8a9a8a" stroke-width="0.3"/></g>
<g transform="translate(231.3,-3.4)"><defs><linearGradient id="rg21" gradientUnits="userSpaceOnUse" x1="0" y1="188" x2="0" y2="200.5"><stop offset="0" stop-color="#17a444"/><stop offset="0.55" stop-color="#2a9238"/><stop offset="0.85" stop-color="#7a5020"/><stop offset="1" stop-color="#c02010"/></linearGradient><linearGradient id="rg22" gradientUnits="userSpaceOnUse" x1="0" y1="185.5" x2="0" y2="197.5"><stop offset="0" stop-color="#17a444"/><stop offset="0.55" stop-color="#2a9238"/><stop offset="0.85" stop-color="#7a5020"/><stop offset="1" stop-color="#c02010"/></linearGradient><linearGradient id="rg23" gradientUnits="userSpaceOnUse" x1="0" y1="192" x2="0" y2="200.5"><stop offset="0" stop-color="#17a444"/><stop offset="0.55" stop-color="#2a9238"/><stop offset="0.85" stop-color="#7a5020"/><stop offset="1" stop-color="#c02010"/></linearGradient></defs><polygon fill="url(#rg21)" points="181.0,200.2 178.4,188.3 180.9,195.8 182.2,191.0 183.3,196.4 185.0,191.1 184.8,196.6 187.9,192.1 185.7,199.6"/><polygon fill="url(#rg21)" points="180.6,199.8 178.3,195.2 181.4,198.2"/><polygon fill="url(#rg22)" points="187.5,197.6 187.8,192.2 189.4,188.2 190.2,193.0 192.0,186.1 192.6,192.4 194.1,185.6 194.4,192.0 197.3,185.1 194.9,194.0 194.7,197.6"/><polygon fill="url(#rg23)" points="195.3,200.3 195.6,194.6 196.6,197.2 198.6,192.0 199.0,197.4 201.7,194.6 200.9,200.4"/><g stroke="url(#rg21)" stroke-width="1.35" stroke-linecap="round"><line x1="181.6" y1="199" x2="178.4" y2="188.3"/><line x1="181.0" y1="199.5" x2="178.4" y2="195.2"/><line x1="182.6" y1="199" x2="182.2" y2="191.0"/><line x1="183.6" y1="199" x2="185.0" y2="191.1"/><line x1="184.6" y1="199" x2="187.9" y2="192.1"/></g><g stroke="url(#rg22)" stroke-width="1.35" stroke-linecap="round"><line x1="188.6" y1="196" x2="189.4" y2="188.2"/><line x1="190.2" y1="196" x2="192.0" y2="186.1"/><line x1="191.8" y1="196" x2="194.1" y2="185.6"/><line x1="193.4" y1="196" x2="197.3" y2="185.1"/></g><g stroke="url(#rg23)" stroke-width="1.35" stroke-linecap="round"><line x1="196.2" y1="199.5" x2="195.8" y2="194.4"/><line x1="197.4" y1="199.5" x2="198.6" y2="192.0"/><line x1="199.0" y1="199.5" x2="201.7" y2="194.6"/></g><g fill="#ee1010"><polygon points="179.8,199.2 185.6,198.6 189.4,204.8 188.8,206.8 183.2,206.5 181.2,203.3"/><polygon points="187.2,196.6 194.6,196.4 194.4,201.8 189.5,202.5 187.6,201.0"/><polygon points="195.2,199.8 200.8,199.8 202.4,203.4 201.4,207.0 196.4,207.2 195.0,203.0"/></g><circle cx="184.4" cy="204.6" r="0.95" fill="#7ccc68"/><circle cx="191.2" cy="199.6" r="0.95" fill="#7ccc68"/><circle cx="198.2" cy="204.0" r="0.95" fill="#7ccc68"/><circle cx="186.5" cy="201.1" r="1.15" fill="#1ea8f0"/><circle cx="195.3" cy="200.4" r="1.15" fill="#1010f0"/></g>
<g transform="translate(231.6,1.5)"><line x1="176" y1="239.4" x2="214.5" y2="239.4" stroke="#b4c0ea" stroke-width="0.8"/><path d="M180.3,222.0 Q179.5,223 179.5,225 L179.5,235 Q179.5,237 180.3,238.0 M185.79999999999998,222.0 Q186.6,223 186.6,225 L186.6,235 Q186.6,237 185.79999999999998,238.0" fill="none" stroke="#fbcaca" stroke-width="3.2" transform="translate(0,0)"/><path d="M192.0,222.0 Q191.2,223 191.2,225 L191.2,235 Q191.2,237 192.0,238.0 M197.5,222.0 Q198.3,223 198.3,225 L198.3,235 Q198.3,237 197.5,238.0" fill="none" stroke="#fbcaca" stroke-width="3.2" transform="translate(0,0)"/><path d="M203.70000000000002,222.0 Q202.9,223 202.9,225 L202.9,235 Q202.9,237 203.70000000000002,238.0 M209.2,222.0 Q210.0,223 210.0,225 L210.0,235 Q210.0,237 209.2,238.0" fill="none" stroke="#fbcaca" stroke-width="3.2" transform="translate(0,0)"/><path d="M180.3,222.0 Q179.5,223 179.5,225 L179.5,235 Q179.5,237 180.3,238.0 M185.79999999999998,222.0 Q186.6,223 186.6,225 L186.6,235 Q186.6,237 185.79999999999998,238.0" fill="none" stroke="#f41a1a" stroke-width="1.45"/><circle cx="182.65" cy="230.1" r="1.3" fill="#fff" stroke="#e23a3a" stroke-width="0.75"/><path d="M192.0,222.0 Q191.2,223 191.2,225 L191.2,235 Q191.2,237 192.0,238.0 M197.5,222.0 Q198.3,223 198.3,225 L198.3,235 Q198.3,237 197.5,238.0" fill="none" stroke="#f41a1a" stroke-width="1.45"/><circle cx="194.35" cy="230.1" r="1.3" fill="#fff" stroke="#e23a3a" stroke-width="0.75"/><path d="M203.70000000000002,222.0 Q202.9,223 202.9,225 L202.9,235 Q202.9,237 203.70000000000002,238.0 M209.2,222.0 Q210.0,223 210.0,225 L210.0,235 Q210.0,237 209.2,238.0" fill="none" stroke="#f41a1a" stroke-width="1.45"/><circle cx="206.04999999999998" cy="230.1" r="1.3" fill="#fff" stroke="#e23a3a" stroke-width="0.75"/><line x1="176" y1="224.8" x2="180.2" y2="224.8" stroke="#0a0ae8" stroke-width="1.9"/><line x1="179.7" y1="222.6" x2="179.7" y2="227.0" stroke="#0a0ae8" stroke-width="1.1"/><line x1="187.0" y1="224.8" x2="191.0" y2="224.8" stroke="#0a0ae8" stroke-width="1.9"/><line x1="187.4" y1="222.4" x2="187.4" y2="227.4" stroke="#0a0ae8" stroke-width="1.1"/><line x1="190.6" y1="222.4" x2="190.6" y2="227.4" stroke="#0a0ae8" stroke-width="1.1"/><line x1="198.6" y1="224.8" x2="202.6" y2="224.8" stroke="#0a0ae8" stroke-width="1.9"/><line x1="199.0" y1="222.4" x2="199.0" y2="227.4" stroke="#0a0ae8" stroke-width="1.1"/><line x1="202.2" y1="222.4" x2="202.2" y2="227.4" stroke="#0a0ae8" stroke-width="1.1"/><line x1="210.2" y1="224.8" x2="214.8" y2="224.8" stroke="#0a0ae8" stroke-width="1.9"/><line x1="210.4" y1="222.6" x2="210.4" y2="227.0" stroke="#0a0ae8" stroke-width="1.1"/><line x1="174.60000000000002" y1="234.0" x2="177.0" y2="231.8" stroke="#1c8cc0" stroke-width="1.5"/><line x1="186.8" y1="234.0" x2="189.2" y2="231.8" stroke="#1c8cc0" stroke-width="1.5"/><line x1="199.20000000000002" y1="234.0" x2="201.6" y2="231.8" stroke="#1c8cc0" stroke-width="1.5"/><line x1="212.8" y1="234.0" x2="215.2" y2="231.8" stroke="#1c8cc0" stroke-width="1.5"/></g>
</svg>
</body></html>
